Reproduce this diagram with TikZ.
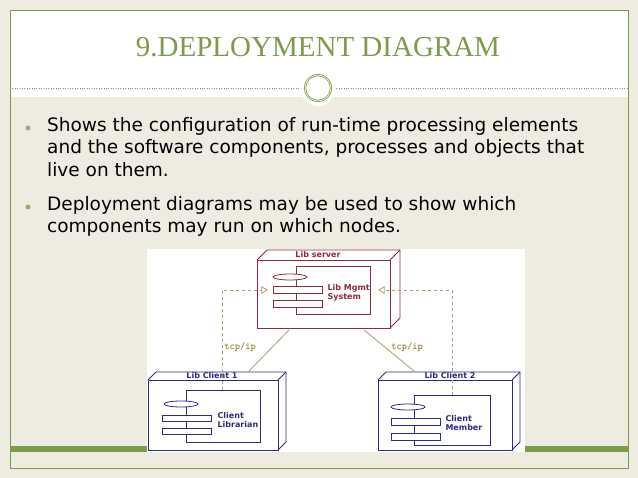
\documentclass[tikz,border=0pt]{standalone}
\usepackage{fontspec}
\setmainfont{Liberation Serif}
\newfontfamily\bodyfont{DejaVu Sans}
\usetikzlibrary{arrows,positioning}
\definecolor{slidebg}{HTML}{EEEBE1}
\definecolor{titlegreen}{HTML}{7E9A4C}
\definecolor{srvred}{HTML}{8E2B3C}
\definecolor{cliblue}{HTML}{2C2C7E}
\definecolor{linktan}{HTML}{B09A6A}
\definecolor{tcpgold}{HTML}{9C7C2C}
\begin{document}
\begin{tikzpicture}[x=1pt,y=-1pt]
\tikzstyle{bullet} = [anchor = north west, align = left,
  font = \bodyfont\fontsize{18.5}{22.5}\selectfont, inner sep = 0pt];
\tikzstyle{cube} = [thick];
\tikzstyle{small} = [font = \bodyfont\fontsize{8}{9}\selectfont\bfseries, align = left];
\tikzstyle{link} = [draw, linktan, thick];
\tikzstyle{dep} = [draw, linktan, dashed, thick, -open triangle 60];
\useasboundingbox (0,0) rectangle (638,478);
\fill[slidebg] (0,0) rectangle (638,478);
\fill[white] (10,10) rectangle (628,97);
\draw[titlegreen] (10,10) rectangle (628,468);
\draw[titlegreen, dotted] (10,88) -- (628,88);
\fill[white] (318,88) circle (18);
\draw[titlegreen, double, thick] (318,88) circle (13);
\node (title) at (318,47) {\color{titlegreen}\fontsize{29}{34}\selectfont 9.DEPLOYMENT DIAGRAM};
% bullets
\node [bullet] (b1) at (47,117) {Shows the configuration of run-time processing elements\\and the software components, processes and objects that\\live on them.};
\node [bullet] (b2) at (47,196) {Deployment diagrams may be used to show which\\components may run on which nodes.};
\fill[titlegreen!80] (28,128) circle (2.5);
\fill[titlegreen!80] (28,207) circle (2.5);
% picture
\fill[titlegreen] (10,446) rectangle (628,452);
\fill[white] (147,249) rectangle (525,452);
% server node
\begin{scope}[srvred, cube]
\draw (257,260) rectangle (390,328);
\draw (257,260) -- (267,250) -- (400,250) -- (400,318) -- (390,328);
\draw (390,260) -- (400,250);
\draw (296,266) rectangle (370,314);
\draw[fill=white] (290,277) ellipse (17 and 3);
\draw[fill=white] (273,286) rectangle (322,293);
\draw[fill=white] (273,300) rectangle (322,307);
\end{scope}
\node [small, srvred] (srv) at (318,255) {Lib server};
\node [small, srvred, anchor = west] (mgmt) at (324,293) {Lib Mgmt\\System};
% client nodes
\begin{scope}[cliblue, cube]
\draw (148,380) rectangle (278,450);
\draw (148,380) -- (156,372) -- (286,372) -- (286,442) -- (278,450);
\draw (278,380) -- (286,372);
\draw (186,390) rectangle (260,442);
\draw[fill=white] (181,404) ellipse (17 and 3);
\draw[fill=white] (162,415) rectangle (211,421);
\draw[fill=white] (162,428) rectangle (211,434);
\draw (378,380) rectangle (512,450);
\draw (378,380) -- (386,372) -- (520,372) -- (520,442) -- (512,450);
\draw (512,380) -- (520,372);
\draw (414,395) rectangle (490,445);
\draw[fill=white] (408,407) ellipse (17 and 3);
\draw[fill=white] (391,418) rectangle (440,425);
\draw[fill=white] (391,433) rectangle (440,440);
\end{scope}
\node [small, cliblue] (c1) at (212,376) {Lib Client 1};
\node [small, cliblue] (c2) at (450,376) {Lib Client 2};
\node [small, cliblue, anchor = west] (lib) at (214,420) {Client\\Librarian};
\node [small, cliblue, anchor = west] (mem) at (442,423) {Client\\Member};
% connectors
\coordinate (s1) at (289,330);
\coordinate (s2) at (364,330);
\coordinate (k1) at (249,371);
\coordinate (k2) at (414,371);
\path [link] (s1) -- (k1);
\path [link] (s2) -- (k2);
\node [small, tcpgold, font = \ttfamily\bfseries\fontsize{10}{11}\selectfont] (t1) at (240,347) {tcp/ip};
\node [small, tcpgold, font = \ttfamily\bfseries\fontsize{10}{11}\selectfont] (t2) at (407,347) {tcp/ip};
\coordinate (d1) at (222,390);
\coordinate (d2) at (452,395);
\coordinate (a1) at (268,290);
\coordinate (a2) at (378,290);
\path [dep] (d1) |- (a1);
\path [dep] (d2) |- (a2);
\end{tikzpicture}
\end{document}
